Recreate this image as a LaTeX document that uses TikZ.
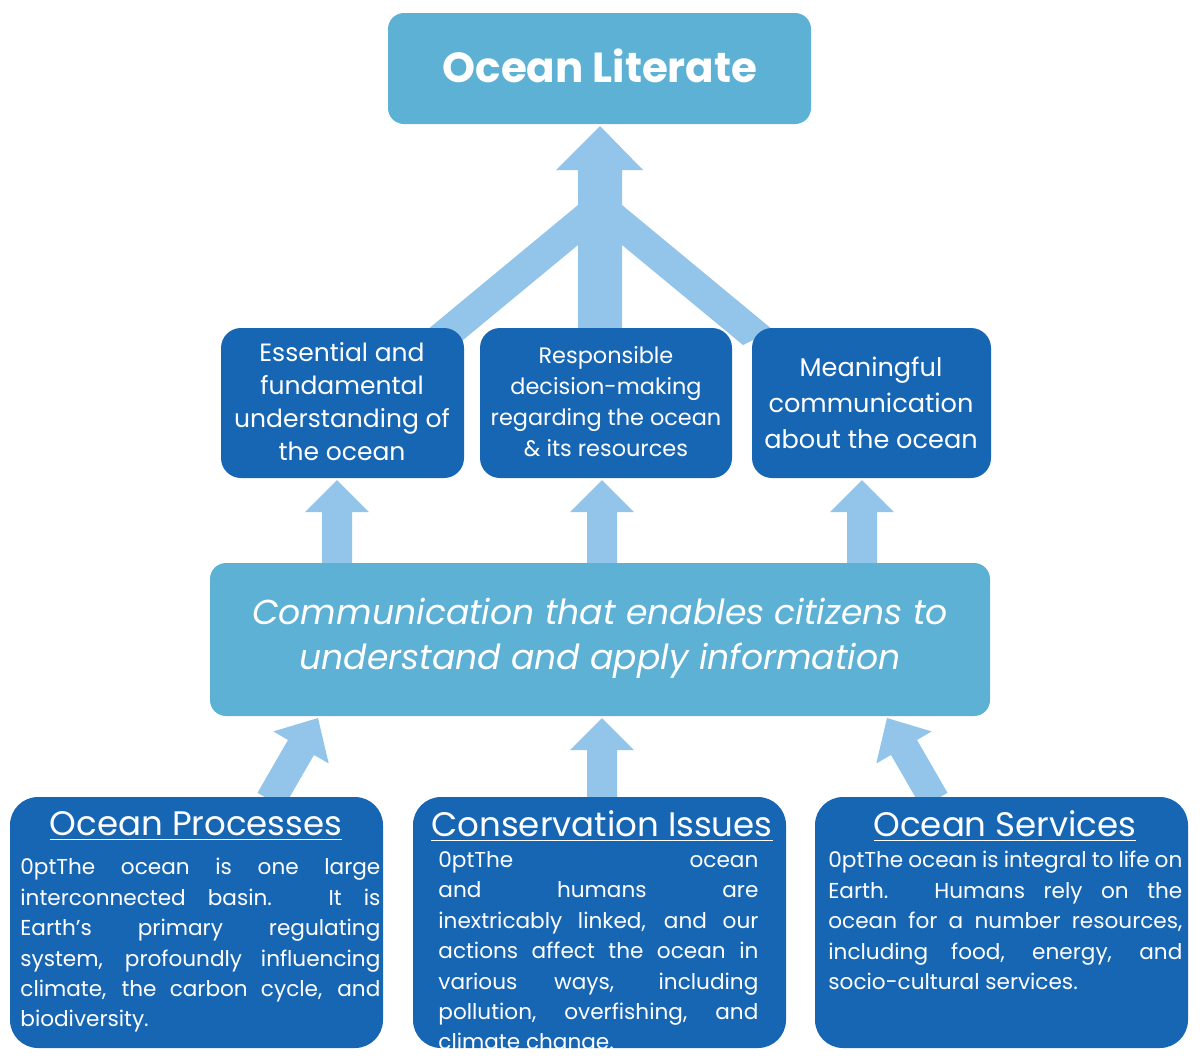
\documentclass[tikz,border=0pt]{standalone}
\usepackage{fontspec}
\setmainfont{Poppins}
\begin{document}
\begin{tikzpicture}[x=0.5pt,y=-0.5pt]
\definecolor{lb}{HTML}{5DB1D5}
\definecolor{db}{HTML}{1766B4}
\definecolor{ar}{HTML}{93C4EA}
\tikzset{lbox/.style={fill=lb,rounded corners=8pt,draw=none},
 dbox/.style={fill=db,rounded corners=10pt,draw=none},
 arw/.style={fill=ar,draw=none}}
\useasboundingbox (0,0) rectangle (1200,1057);
% arrows
\fill[arw] (600,126) -- (643,170) -- (622,170) -- (622,205) -- (773,330) -- (743,345) -- (622,245) -- (622,330) -- (578,330) -- (578,245) -- (457,345) -- (427,330) -- (578,205) -- (578,170) -- (556,170) -- cycle;
\foreach \c in {337,602,862}{
 \fill[arw] (\c,480) -- (\c+32,512) -- (\c+15,512) -- (\c+15,565) -- (\c-15,565) -- (\c-15,512) -- (\c-32,512) -- cycle;}
\fill[arw] (602,718) -- (634,750) -- (617,750) -- (617,800) -- (587,800) -- (587,750) -- (570,750) -- cycle;
\begin{scope}[shift={(318,718)},rotate=-30]
\fill[arw] (0,0) -- (32,34) -- (15,34) -- (15,95) -- (-15,95) -- (-15,34) -- (-32,34) -- cycle;
\end{scope}
\begin{scope}[shift={(887,718)},rotate=30]
\fill[arw] (0,0) -- (32,34) -- (15,34) -- (15,95) -- (-15,95) -- (-15,34) -- (-32,34) -- cycle;
\end{scope}
% boxes
\fill[lbox] (388,13) rectangle (811,124);
\node[text=white,font=\fontsize{21}{25}\selectfont\bfseries] (top) at (600,66) {Ocean Literate};
\fill[dbox] (221,328) rectangle (464,478);
\fill[dbox] (480,328) rectangle (732,478);
\fill[dbox] (752,328) rectangle (991,478);
\node[text=white,align=center,font=\fontsize{12.5}{16.5}\selectfont] (m1) at (342,402) {Essential and\\fundamental\\understanding of\\the ocean};
\node[text=white,align=center,font=\fontsize{11.2}{15.5}\selectfont] (m2) at (606,402) {Responsible\\decision-making\\regarding the ocean\\\& its resources};
\node[text=white,align=center,font=\fontsize{12.8}{18}\selectfont] (m3) at (871,403) {Meaningful\\communication\\about the ocean};
\fill[lbox] (210,563) rectangle (990,716);
\node[text=white,align=center,font=\fontsize{17.3}{22.5}\itshape] (comm) at (600,638) {Communication that enables citizens to\\understand and apply information};
\foreach \a/\b in {10/383,413/786,815/1188}{\fill[dbox,rounded corners=14pt] (\a,797) rectangle (\b,1048);}
\node[text=white,font=\fontsize{17}{20}\selectfont] (h1) at (196,826) {\underline{Ocean Processes}};
\node[text=white,font=\fontsize{17}{20}\selectfont] (h2) at (602,826) {\underline{Conservation Issues}};
\node[text=white,font=\fontsize{17}{20}\selectfont] (h3) at (1005,826) {\underline{Ocean Services}};
\tikzset{body/.style={text=white,anchor=north west,align=justify,inner sep=0pt,font=\fontsize{10.8}{15.2}\selectfont\hyphenpenalty=10000 }}
\node[body,text width=180pt] (b1) at (20,858) {The ocean is one large\linebreak interconnected basin. It is\linebreak Earth’s primary regulating\linebreak system, profoundly influencing\linebreak climate, the carbon cycle, and\linebreak biodiversity.};
\node[body,text width=160pt] (b2) at (438,851) {The ocean and humans are\linebreak inextricably linked, and our\linebreak actions affect the ocean in\linebreak various ways, including\linebreak pollution, overfishing, and\linebreak climate change.};
\node[body,text width=177pt] (b3) at (828,851) {The ocean is integral to life on\linebreak Earth. Humans rely on the\linebreak ocean for a number resources,\linebreak including food, energy, and\linebreak socio-cultural services.};
\end{tikzpicture}
\end{document}
